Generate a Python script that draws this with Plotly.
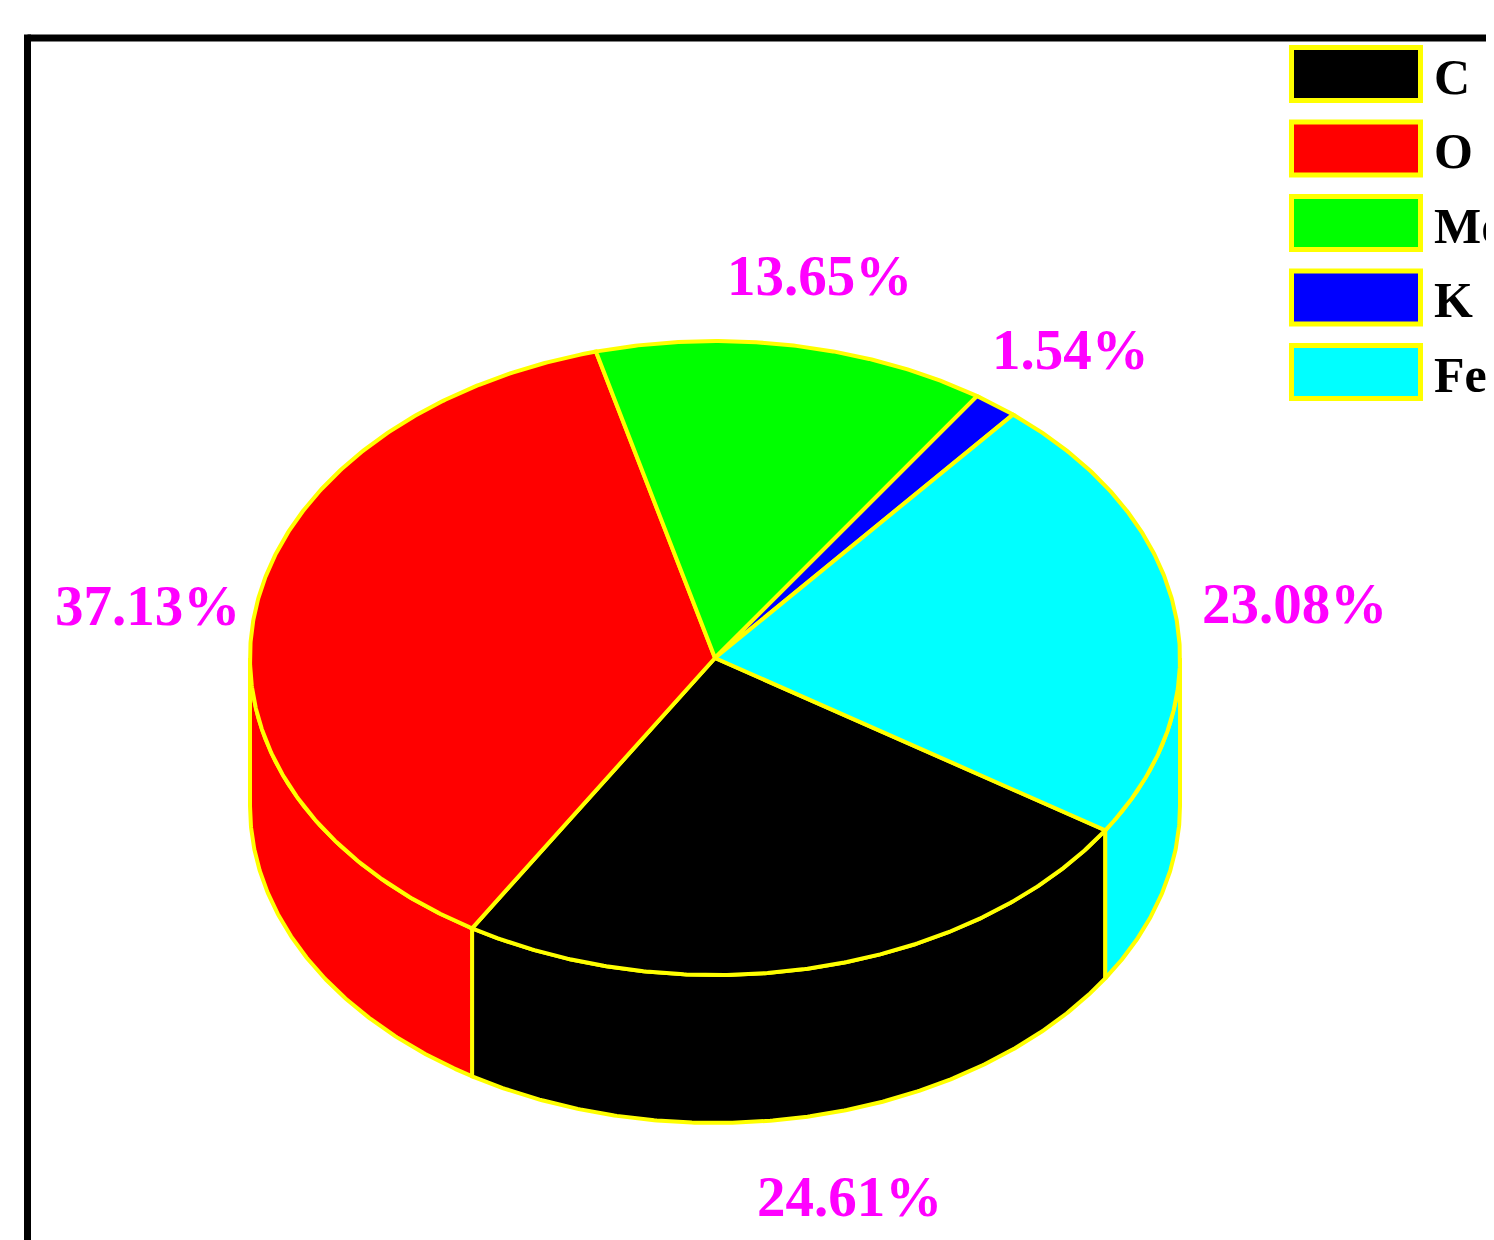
import numpy as np
import plotly.graph_objects as go

# composition (wt %)
elements = ["C", "O", "Mo", "K", "Fe"]
percents = [24.61, 37.13, 13.65, 1.54, 23.08]
colors = ["#000000", "#ff0000", "#00ff00", "#0000ff", "#00ffff"]

W, H = 1494, 1240
OFF = 8                    # page body margin, axes are shifted so units = screen pixels
CX, CY = 715, 658          # centre of the top face
RX, RY = 465, 317          # ellipse radii of the top face
DEPTH = 148                # thickness of the "3d" disc
START = -32.9              # angle where the first slice starts, slices go clockwise
OUTLINE = "#ffff00"
LABEL_RX, LABEL_RY = 580, 392
FONT = "Liberation Serif"


def ell(t_deg, dy=0.0):
    t = np.radians(t_deg)
    return CX + RX * np.cos(t), CY - RY * np.sin(t) + dy


# slice start/end angles
bounds = []
a = START
for p in percents:
    b = a - p / 100.0 * 360.0
    bounds.append((a, b))
    a = b

fig = go.Figure()

# side walls (only the front half is visible)
for (s, e), c in zip(bounds, colors):
    for k in (-1, 0, 1):
        lo = max(e, -180 + 360 * k)
        hi = min(s, 360 * k)
        if hi <= lo:
            continue
        t = np.linspace(hi, lo, int((hi - lo) * 3) + 2)
        xt, yt = ell(t)
        xb, yb = ell(t[::-1], DEPTH)
        fig.add_trace(go.Scatter(
            x=np.r_[xt, xb, xt[:1]], y=np.r_[yt, yb, yt[:1]],
            mode="lines", fill="toself", fillcolor=c,
            line=dict(color=OUTLINE, width=4), hoverinfo="skip"))

# top faces
for (s, e), c in zip(bounds, colors):
    t = np.linspace(s, e, int((s - e) * 3) + 2)
    xa, ya = ell(t)
    fig.add_trace(go.Scatter(
        x=np.r_[CX, xa, CX], y=np.r_[CY, ya, CY],
        mode="lines", fill="toself", fillcolor=c,
        line=dict(color=OUTLINE, width=4), hoverinfo="skip"))

# percentage labels
for (s, e), p in zip(bounds, percents):
    m = np.radians((s + e) / 2)
    lx = CX + LABEL_RX * np.cos(m) + 6
    ly = CY - LABEL_RY * np.sin(m) + (DEPTH + 4 if np.sin(m) < 0 else 0) + 4
    fig.add_annotation(x=lx, y=ly, text="<b>%.2f%%</b>" % p, showarrow=False,
                       xanchor="center", yanchor="middle",
                       font=dict(family=FONT, size=57, color="#ff00ff"))

# legend drawn by hand
for i, (name, c) in enumerate(zip(elements, colors)):
    top = 47.5 + i * 74.5
    fig.add_shape(type="rect", x0=1291.5, x1=1420.5, y0=top, y1=top + 53,
                  fillcolor=c, line=dict(color=OUTLINE, width=5))
    fig.add_annotation(x=1432, y=top + 29, text="<b>%s</b>" % name, showarrow=False,
                       xanchor="left", yanchor="middle",
                       font=dict(family=FONT, size=50, color="#000000"))

# frame
fig.add_shape(type="line", x0=27.5, x1=W + 20, y0=38, y1=38, line=dict(color="black", width=7))
fig.add_shape(type="line", x0=27.5, x1=27.5, y0=34.5, y1=H + 20, line=dict(color="black", width=7))

fig.update_layout(
    width=W, height=H, margin=dict(l=0, r=0, t=0, b=0),
    paper_bgcolor="white", plot_bgcolor="white", showlegend=False,
    xaxis=dict(range=[OFF, W + OFF], visible=False, fixedrange=True),
    yaxis=dict(range=[H + OFF, OFF], visible=False, fixedrange=True),
)

fig.write_html("out.html")
